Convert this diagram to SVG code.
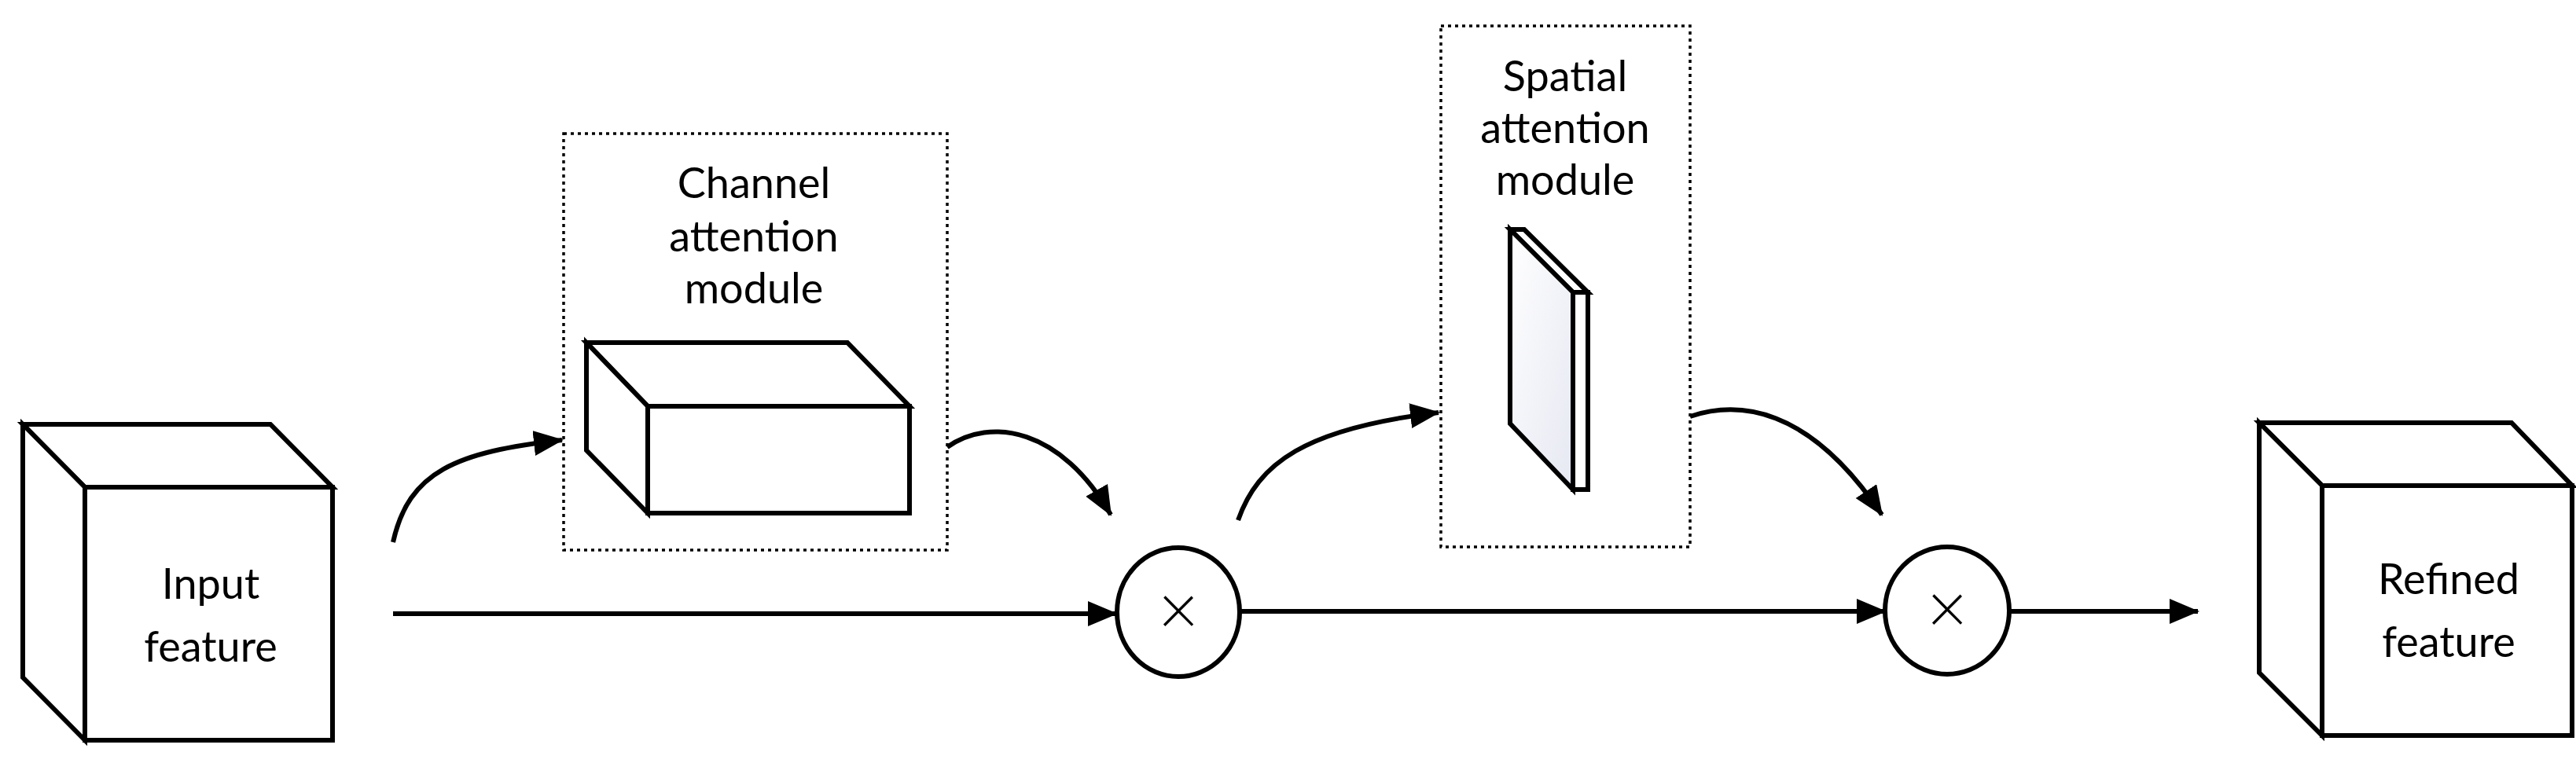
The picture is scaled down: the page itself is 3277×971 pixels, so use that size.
<svg xmlns="http://www.w3.org/2000/svg" width="3277" height="971" viewBox="0 0 3277 971">
<defs>
<marker id="ah" markerUnits="userSpaceOnUse" markerWidth="44" markerHeight="40" refX="36" refY="16" orient="auto"><path d="M0,0 L38,16 L0,32 Z" fill="#000"/></marker>
<linearGradient id="pg" x1="0" y1="0" x2="1" y2="1"><stop offset="0" stop-color="#ffffff"/><stop offset="1" stop-color="#e6e8f2"/></linearGradient>
</defs>
<style>
.s{fill:#fff;stroke:#000;stroke-width:6;stroke-linejoin:miter}
.d{fill:none;stroke:#000;stroke-width:3.5;stroke-dasharray:4,5}
.c{fill:none;stroke:#000;stroke-width:6;marker-end:url(#ah)}
text{font-family:Lato,"Open Sans","Liberation Sans",sans-serif;font-size:54px;text-anchor:middle;fill:#000}
.x{font-size:90px;font-weight:300}
</style>
<rect width="3277" height="971" fill="#fff"/>
<g id="input">
<path class="s" d="M29,540 L344,540 L423,620 L108,620 Z"/>
<path class="s" d="M29,540 L108,620 L108,942 L29,862 Z"/>
<rect class="s" x="108" y="620" width="315" height="322"/>
<text x="268" y="762">Input</text><text x="268" y="842">feature</text>
</g>
<g id="channel">
<rect class="d" x="717" y="170" width="488" height="530"/>
<text x="959" y="252">Channel</text><text x="959" y="320">attention</text><text x="959" y="386">module</text>
<path class="s" d="M746,436 L1078,436 L1157,517 L824,517 Z"/>
<path class="s" d="M746,436 L824,517 L824,653 L746,573 Z"/>
<rect class="s" x="824" y="517" width="333" height="136"/>
</g>
<g id="spatial">
<rect class="d" x="1833" y="33" width="317" height="663"/>
<text x="1991" y="116">Spatial</text><text x="1991" y="182">attention</text><text x="1991" y="248">module</text>
<path class="s" d="M1921,292 L1939,292 L2020,372 L2001,372 Z"/>
<path d="M1921,292 L2001,372 L2001,623 L1921,539 Z" fill="url(#pg)" stroke="#000" stroke-width="6"/>
<rect class="s" x="2001" y="372" width="19" height="251"/>
</g>
<g id="mul1"><ellipse class="s" cx="1499" cy="779" rx="78" ry="82"/><text class="x" x="1499" y="808">×</text></g>
<g id="mul2"><ellipse class="s" cx="2477" cy="777" rx="79" ry="81"/><text class="x" x="2477" y="806">×</text></g>
<g id="refined">
<path class="s" d="M2874,538 L3195,538 L3272,618 L2954,618 Z"/>
<path class="s" d="M2874,538 L2954,618 L2954,936 L2874,856 Z"/>
<rect class="s" x="2954" y="618" width="318" height="318"/>
<text x="3115" y="756">Refined</text><text x="3115" y="836">feature</text>
</g>
<g id="connectors">
<path class="c" d="M500,781 L1420,781"/>
<path class="c" d="M1579,778 L2398,778"/>
<path class="c" d="M2556,778 L2796,778"/>
<path class="c" d="M500,690 C520,600 580,575 715,560"/>
<path class="c" d="M1205,569 C1260,530 1350,545 1413,655"/>
<path class="c" d="M1575,662 C1600,590 1660,545 1830,525"/>
<path class="c" d="M2150,530 C2210,510 2300,515 2394,655"/>
</g>
</svg>
